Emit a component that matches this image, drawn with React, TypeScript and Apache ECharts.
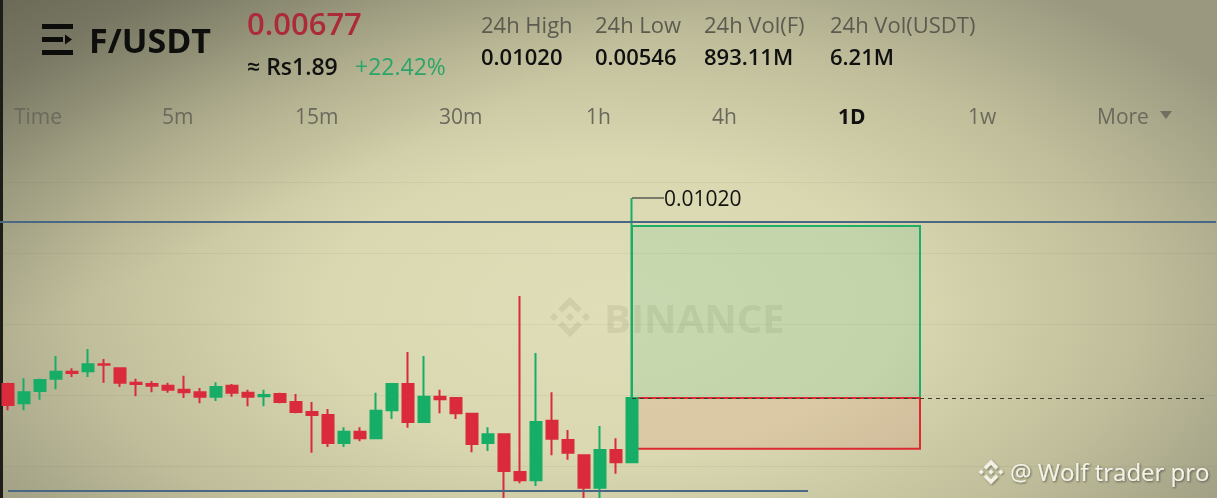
import React, { useEffect, useRef } from "react";
import * as echarts from "echarts";

// ---------- data ----------
const candleDays = [
  "D1", "D2", "D3", "D4", "D5", "D6", "D7", "D8", "D9", "D10",
  "D11", "D12", "D13", "D14", "D15", "D16", "D17", "D18", "D19", "D20",
  "D21", "D22", "D23", "D24", "D25", "D26", "D27", "D28", "D29", "D30",
  "D31", "D32", "D33", "D34", "D35", "D36", "D37", "D38", "D39", "D40",
];
const futureSlotCount = 36;

const opens = [
  0.00701, 0.00668, 0.00689, 0.0071, 0.00722, 0.00723, 0.00735, 0.00728, 0.00703, 0.00701,
  0.00698, 0.00691, 0.00687, 0.00679, 0.00698, 0.00686, 0.0068, 0.00684, 0.0067, 0.00653,
  0.00648, 0.006, 0.00619, 0.00608, 0.00656, 0.00701, 0.00636, 0.00679, 0.00677, 0.0065,
  0.006, 0.00615, 0.0055, 0.00536, 0.00638, 0.00605, 0.00579, 0.00523, 0.00588, 0.00567,
];
const closes = [
  0.00665, 0.00687, 0.00708, 0.00722, 0.0072, 0.00735, 0.00734, 0.00703, 0.00701, 0.00698,
  0.00691, 0.00687, 0.00679, 0.00696, 0.00686, 0.00679, 0.00682, 0.0067, 0.00653, 0.00648,
  0.006, 0.00619, 0.00608, 0.00655, 0.00701, 0.00636, 0.00679, 0.00675, 0.00651, 0.00598,
  0.00615, 0.00552, 0.00536, 0.00636, 0.00607, 0.00583, 0.00523, 0.00588, 0.00567, 0.00677,
];
const highs = [
  0.00703, 0.00711, 0.0071, 0.00749, 0.00728, 0.00761, 0.00744, 0.00728, 0.0071, 0.00706,
  0.00703, 0.00715, 0.00694, 0.00704, 0.00701, 0.00691, 0.00691, 0.00686, 0.00684, 0.0067,
  0.00658, 0.00627, 0.00627, 0.00686, 0.00701, 0.00756, 0.00749, 0.00691, 0.00677, 0.0065,
  0.00627, 0.00615, 0.00852, 0.00754, 0.00687, 0.00622, 0.00579, 0.00629, 0.00608, 0.0102,
];
const lows = [
  0.00656, 0.00656, 0.00674, 0.00692, 0.00713, 0.00713, 0.00703, 0.00696, 0.0068, 0.00687,
  0.00686, 0.00677, 0.00668, 0.00672, 0.00679, 0.00663, 0.00663, 0.00668, 0.00651, 0.00583,
  0.00593, 0.00593, 0.00603, 0.00608, 0.00641, 0.00626, 0.00634, 0.00651, 0.00641, 0.00584,
  0.00586, 0.00502, 0.00531, 0.00526, 0.00579, 0.00571, 0.00502, 0.00502, 0.00547, 0.00567,
];

const lastPrice = 0.00677;
const high24 = 0.0102;
const highLabel = "0.01020";
const resistanceLevel = 0.00979;
const supportLevel = 0.00518;
const targetLevel = 0.00972;
const stopLevel = 0.0059;
const entryIndex = 39;
const positionEndIndex = 57;
const supportEndIndex = 50;

const headerLabels = ["24h High", "24h Low", "24h Vol(F)", "24h Vol(USDT)"];
const headerValues = ["0.01020", "0.00546", "893.11M", "6.21M"];
const tabs = ["Time", "5m", "15m", "30m", "1h", "4h", "1D", "1w", "More"];

// y-axis extent (price), grid covers the chart area
const Y_MIN = 0.005055;
const Y_MAX = 0.010474;

// ---------- shapes ----------
const LOGO_D =
  "M50 6 L76 32 L67 41 L50 24 L33 41 L24 32 Z M50 94 L76 68 L67 59 L50 76 L33 59 L24 68 Z M6 50 L15 41 L24 50 L15 59 Z M94 50 L85 41 L76 50 L85 59 Z M50 41 L59 50 L50 59 L41 50 Z";
echarts.graphic.registerShape("binanceLogo", echarts.graphic.extendPath(LOGO_D, {}));

const FONT = "'Open Sans', 'Noto Sans', sans-serif";

export default function App() {
  const ref = useRef<HTMLDivElement>(null);

  useEffect(() => {
    if (!ref.current) return;
    const chart = echarts.init(ref.current, undefined, { renderer: "svg" });

    const categories = [
      ...candleDays,
      ...Array.from({ length: futureSlotCount }, (_, i) => "F" + (i + 1)),
    ];
    const data = opens.map((o, i) => [o, closes[i], lows[i], highs[i]]);

    const tabX = [14, 162, 295, 439, 586, 712, 838, 968, 1097];
    const labelX = [481, 595, 704, 830];

    const graphics: any[] = [
      // left dark edge
      { type: "rect", shape: { x: 0, y: 0, width: 3, height: 498 }, style: { fill: "#1e1e18" }, silent: true },
      // menu icon
      { type: "rect", shape: { x: 42, y: 24, width: 31, height: 5 }, style: { fill: "#0c0c0a" } },
      { type: "rect", shape: { x: 42, y: 37, width: 21, height: 5 }, style: { fill: "#0c0c0a" } },
      { type: "polygon", shape: { points: [[65, 34.5], [72, 39.5], [65, 44.5]] }, style: { fill: "#0c0c0a" } },
      { type: "rect", shape: { x: 42, y: 50, width: 31, height: 5 }, style: { fill: "#0c0c0a" } },
      {
        type: "text", x: 89, y: 40,
        style: { text: "F/USDT", fontSize: 34, fontWeight: 700, fontFamily: FONT, fill: "#0e0e0c", verticalAlign: "middle" },
      },
      {
        type: "text", x: 247, y: 23,
        style: { text: "0.00677", fontSize: 31, fontWeight: 600, fontFamily: FONT, fill: "#ab2c38", verticalAlign: "middle" },
      },
      {
        type: "text", x: 247, y: 66,
        style: { text: "≈ Rs1.89", fontSize: 23, fontWeight: 600, fontFamily: FONT, fill: "#111", verticalAlign: "middle" },
      },
      {
        type: "text", x: 355, y: 66,
        style: { text: "+22.42%", fontSize: 23, fontWeight: 500, fontFamily: FONT, fill: "#2ba56a", verticalAlign: "middle" },
      },
      ...headerLabels.map((t, i) => ({
        type: "text", x: labelX[i], y: 24,
        style: { text: t, fontSize: 22, fontFamily: FONT, fill: "#5c5b4f", verticalAlign: "middle" },
      })),
      ...headerValues.map((t, i) => ({
        type: "text", x: labelX[i], y: 56,
        style: { text: t, fontSize: 22, fontWeight: 600, fontFamily: FONT, fill: "#101010", verticalAlign: "middle" },
      })),
      ...tabs.map((t, i) => ({
        type: "text", x: tabX[i], y: 116,
        style: {
          text: t, fontSize: 21, fontFamily: FONT,
          fontWeight: t === "1D" ? 700 : 400,
          fill: t === "1D" ? "#101010" : "#6a695c", verticalAlign: "middle",
        },
      })),
      { type: "polygon", shape: { points: [[1160, 111], [1172, 111], [1166, 119]] }, style: { fill: "#6f6e60" } },
      // BINANCE watermark
      {
        type: "binanceLogo", x: 547, y: 294, scaleX: 0.46, scaleY: 0.46,
        style: { fill: "rgba(120,120,80,0.14)" }, silent: true, z: 1,
      },
      {
        type: "text", x: 604, y: 317,
        style: { text: "BINANCE", fontSize: 40, fontWeight: 700, fontFamily: FONT, fill: "rgba(120,120,80,0.14)", verticalAlign: "middle" },
        silent: true, z: 1,
      },
      // bottom-right watermark
      {
        type: "binanceLogo", x: 977, y: 458, scaleX: 0.28, scaleY: 0.28,
        style: { fill: "#f1f1e6", shadowColor: "rgba(0,0,0,0.45)", shadowBlur: 2, shadowOffsetX: 1, shadowOffsetY: 1 },
        silent: true, z: 20,
      },
      {
        type: "text", x: 1010, y: 471,
        style: {
          text: "@ Wolf trader pro", fontSize: 24, fontFamily: FONT, fill: "#f3f3ea", verticalAlign: "middle",
          textShadowColor: "rgba(0,0,0,0.5)", textShadowBlur: 2, textShadowOffsetX: 1, textShadowOffsetY: 1,
        },
        silent: true, z: 20,
      },
    ];

    const blue = "#4a6884";
    const option: any = {
      animation: false,
      backgroundColor: "transparent",
      grid: { left: 0, right: 1, top: 182, bottom: 0, containLabel: false },
      xAxis: { type: "category", data: categories, boundaryGap: true, show: false },
      yAxis: [
        { type: "value", min: Y_MIN, max: Y_MAX, show: false },
        {
          type: "value", min: 0, max: 4.45, interval: 1, inverse: true, position: "right",
          axisLine: { show: false }, axisTick: { show: false }, axisLabel: { show: false },
          splitLine: { show: true, lineStyle: { color: "rgba(90,90,55,0.07)", width: 1 } },
        },
      ],
      series: [
        {
          type: "candlestick",
          data,
          barWidth: 12,
          clip: false,
          itemStyle: {
            color: "#17ad67", color0: "#d92b3b",
            borderColor: "#17ad67", borderColor0: "#d92b3b", borderWidth: 2,
          },
          markArea: {
            silent: true,
            data: [
              [
                { coord: [entryIndex, targetLevel], itemStyle: { color: "rgba(90,190,135,0.17)", borderColor: "#1fae67", borderWidth: 2 } },
                { coord: [positionEndIndex, lastPrice] },
              ],
              [
                { coord: [entryIndex, lastPrice], itemStyle: { color: "rgba(225,105,95,0.14)", borderColor: "#dc2a30", borderWidth: 2 } },
                { coord: [positionEndIndex, stopLevel] },
              ],
            ],
          },
          markLine: {
            silent: true,
            symbol: "none",
            precision: 6,
            label: { show: false },
            data: [
              { yAxis: resistanceLevel, lineStyle: { color: blue, width: 2, type: "solid" }, label: { show: false } },
              [
                { coord: [0, supportLevel], lineStyle: { color: blue, width: 2, type: "solid" }, label: { show: false } },
                { coord: [supportEndIndex, supportLevel], lineStyle: { color: blue, width: 2, type: "solid" }, label: { show: false } },
              ],
              [
                { coord: [entryIndex, lastPrice], lineStyle: { color: "#3a3a34", width: 1.2, type: [4, 4] }, label: { show: false } },
                { coord: [futureSlotCount + candleDays.length - 1, lastPrice], lineStyle: { color: "#3a3a34", width: 1.2, type: [4, 4] }, label: { show: false } },
              ],
              [
                {
                  coord: [entryIndex, high24], lineStyle: { color: "#5a5a52", width: 1.5, type: "solid" },
                  label: { show: true, position: "end", distance: 0, formatter: highLabel, color: "#111", fontSize: 21, fontFamily: FONT },
                },
                {
                  coord: [entryIndex + 2, high24], lineStyle: { color: "#5a5a52", width: 1.5, type: "solid" },
                  label: { show: true, position: "end", distance: 0, formatter: highLabel, color: "#111", fontSize: 21, fontFamily: FONT },
                },
              ],
            ],
          },
        },
      ],
      graphic: { elements: graphics },
    };

    chart.setOption(option);
    return () => chart.dispose();
  }, []);

  return (
    <div
      style={{
        position: "fixed",
        left: 0,
        top: 0,
        width: 1217,
        height: 498,
        background:
          "linear-gradient(155deg, rgba(60,60,48,0.5) 0%, rgba(60,60,48,0.15) 18%, rgba(60,60,48,0) 32%), " +
          "radial-gradient(ellipse 62% 78% at 50% 62%, #dfdeb8 0%, #d9d8b1 38%, #c2c09c 68%, #9a9980 100%)",
      }}
    >
      <div ref={ref} style={{ width: 1217, height: 498 }} />
    </div>
  );
}
